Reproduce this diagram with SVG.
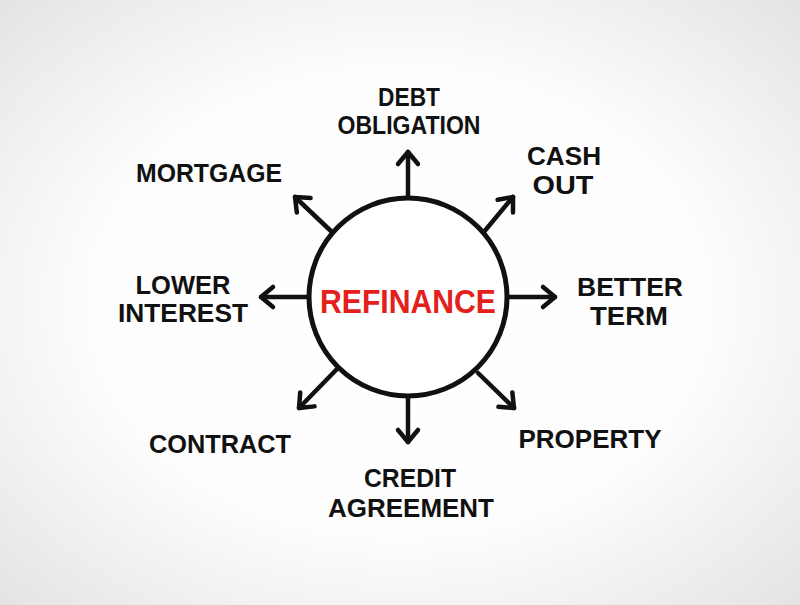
<svg xmlns="http://www.w3.org/2000/svg" width="800" height="605" viewBox="0 0 800 605">
<defs>
<radialGradient id="bg" cx="50%" cy="50%" r="70%">
<stop offset="0" stop-color="#ffffff"/>
<stop offset="0.55" stop-color="#fdfdfd"/>
<stop offset="1" stop-color="#e4e4e4"/>
</radialGradient>
<marker id="head" markerUnits="userSpaceOnUse" markerWidth="30" markerHeight="30" viewBox="-20 -15 30 30" refX="0" refY="0" orient="auto">
<path d="M-12,-10 L0,0 L-12,10" fill="none" stroke="#111" stroke-width="4.5" stroke-linecap="round" stroke-linejoin="round"/>
</marker>
<style>
.lbl{font-family:"Liberation Sans",Arial,sans-serif;font-weight:700;font-size:25px;fill:#111;text-anchor:middle}
.ctr{font-family:"Liberation Sans",Arial,sans-serif;font-weight:700;font-size:34px;fill:#e3201b;text-anchor:middle}
.arr{stroke:#111;stroke-width:4.5;stroke-linecap:round;fill:none;marker-end:url(#head)}
</style>
</defs>
<rect width="800" height="605" fill="url(#bg)"/>
<g id="connectors">
<line class="arr" x1="408" y1="199" x2="408" y2="152"/>
<line class="arr" x1="308" y1="297" x2="261" y2="297"/>
<line class="arr" x1="508" y1="297" x2="555" y2="297"/>
<line class="arr" x1="408" y1="396" x2="408" y2="442"/>
<line class="arr" x1="333" y1="233" x2="295" y2="197"/>
<line class="arr" x1="483" y1="233" x2="513" y2="197"/>
<line class="arr" x1="337" y1="369" x2="299" y2="408"/>
<line class="arr" x1="478" y1="373" x2="514" y2="408"/>
</g>
<g id="refinance">
<circle cx="408" cy="297" r="99" fill="#fff" stroke="#111" stroke-width="5"/>
<text class="ctr" x="408" y="313" textLength="176" lengthAdjust="spacingAndGlyphs">REFINANCE</text>
</g>
<g id="debt-obligation">
<text class="lbl" x="409" y="106" textLength="62" lengthAdjust="spacingAndGlyphs">DEBT</text>
<text class="lbl" x="409" y="134" textLength="143" lengthAdjust="spacingAndGlyphs">OBLIGATION</text>
</g>
<g id="cash-out">
<text class="lbl" x="564" y="165" textLength="74" lengthAdjust="spacingAndGlyphs">CASH</text>
<text class="lbl" x="563" y="194" textLength="61" lengthAdjust="spacingAndGlyphs">OUT</text>
</g>
<g id="better-term">
<text class="lbl" x="630" y="296" textLength="106" lengthAdjust="spacingAndGlyphs">BETTER</text>
<text class="lbl" x="629" y="325" textLength="78" lengthAdjust="spacingAndGlyphs">TERM</text>
</g>
<g id="property">
<text class="lbl" x="590" y="448" textLength="143" lengthAdjust="spacingAndGlyphs">PROPERTY</text>
</g>
<g id="credit-agreement">
<text class="lbl" x="410" y="487" textLength="92" lengthAdjust="spacingAndGlyphs">CREDIT</text>
<text class="lbl" x="411" y="517" textLength="166" lengthAdjust="spacingAndGlyphs">AGREEMENT</text>
</g>
<g id="contract">
<text class="lbl" x="220" y="453" textLength="142" lengthAdjust="spacingAndGlyphs">CONTRACT</text>
</g>
<g id="lower-interest">
<text class="lbl" x="183" y="294" textLength="95" lengthAdjust="spacingAndGlyphs">LOWER</text>
<text class="lbl" x="183" y="322" textLength="130" lengthAdjust="spacingAndGlyphs">INTEREST</text>
</g>
<g id="mortgage">
<text class="lbl" x="209" y="182" textLength="146" lengthAdjust="spacingAndGlyphs">MORTGAGE</text>
</g>
</svg>
